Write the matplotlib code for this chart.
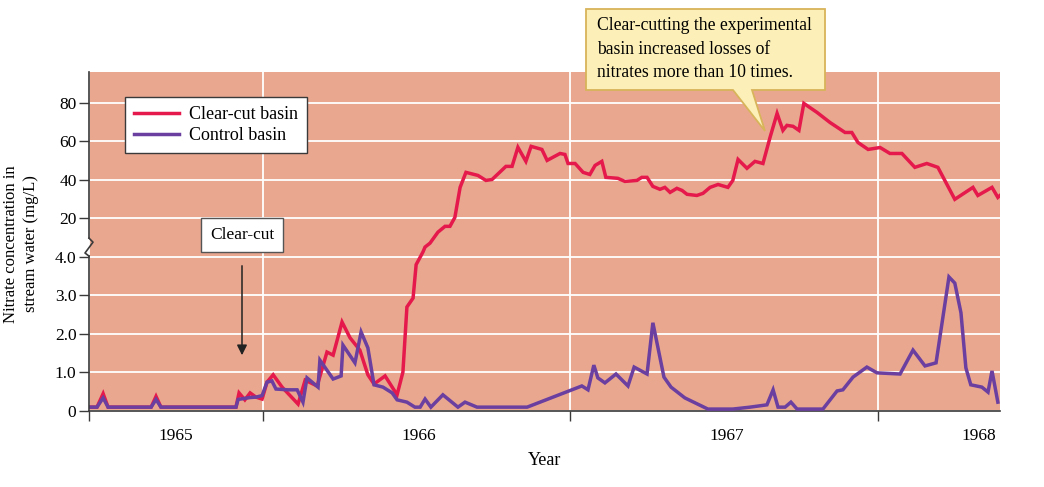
import numpy as np
import matplotlib
matplotlib.use("Agg")
import matplotlib.pyplot as plt
from matplotlib.patches import Polygon, FancyArrowPatch

plt.rcParams['font.family'] = ['Liberation Serif', 'DejaVu Serif']

# decimal years / nitrate (mg/L)
cut_x = [1965.434, 1965.460, 1965.480, 1965.496, 1965.636, 1965.652, 1965.668, 1965.912,
         1965.922, 1965.941, 1965.958, 1965.977, 1965.997, 1966.013, 1966.033, 1966.062,
         1966.114, 1966.137, 1966.176, 1966.208, 1966.228, 1966.257, 1966.283, 1966.315,
         1966.341, 1966.361, 1966.397, 1966.436, 1966.455, 1966.468, 1966.488, 1966.498,
         1966.520, 1966.527, 1966.543, 1966.569, 1966.592, 1966.608, 1966.624, 1966.641,
         1966.660, 1966.699, 1966.725, 1966.745, 1966.790, 1966.810, 1966.829, 1966.855,
         1966.872, 1966.907, 1966.924, 1966.966, 1966.982, 1966.992, 1967.015, 1967.041,
         1967.063, 1967.080, 1967.102, 1967.115, 1967.154, 1967.177, 1967.216, 1967.232,
         1967.249, 1967.268, 1967.291, 1967.307, 1967.324, 1967.346, 1967.363, 1967.379,
         1967.411, 1967.431, 1967.454, 1967.480, 1967.512, 1967.528, 1967.545, 1967.574,
         1967.600, 1967.626, 1967.649, 1967.672, 1967.691, 1967.704, 1967.724, 1967.743,
         1967.759, 1967.802, 1967.844, 1967.893, 1967.915, 1967.935, 1967.968, 1968.007,
         1968.039, 1968.078, 1968.120, 1968.159, 1968.195, 1968.250, 1968.309, 1968.325,
         1968.371, 1968.390, 1968.397]
cut_y = [0.1, 0.1, 0.45, 0.1, 0.1, 0.38, 0.1, 0.1,
         0.47, 0.29, 0.47, 0.36, 0.31, 0.75, 0.94, 0.62,
         0.18, 0.8, 0.65, 1.53, 1.45, 2.31, 1.9, 1.58,
         0.94, 0.7, 0.91, 0.42, 1.01, 2.7, 2.93, 3.8,
         6.0, 8.1, 9.7, 14.3, 16.7, 16.7, 20.5, 36.1,
         43.9, 42.3, 39.7, 40.2, 47.0, 47.0, 56.9, 49.6,
         57.4, 55.8, 50.1, 53.7, 53.2, 48.5, 48.5, 43.9,
         42.8, 47.5, 49.6, 41.3, 40.8, 39.2, 39.7, 41.3,
         41.3, 36.6, 35.1, 36.1, 33.5, 35.6, 34.5, 32.5,
         31.9, 33.0, 36.1, 37.6, 36.1, 39.7, 50.6, 46.0,
         49.6, 48.5, 62.0, 74.5, 65.7, 68.3, 67.8, 65.7,
         79.7, 75.0, 69.8, 64.6, 64.6, 59.4, 55.8, 56.8,
         53.7, 53.7, 46.5, 48.5, 46.5, 29.9, 36.1, 31.9,
         36.1, 30.9, 31.9]

ctrl_x = [1965.434, 1965.460, 1965.480, 1965.496, 1965.636, 1965.652, 1965.668, 1965.912,
          1965.919, 1965.958, 1965.977, 1965.997, 1966.013, 1966.029, 1966.042, 1966.081,
          1966.111, 1966.130, 1966.143, 1966.179, 1966.185, 1966.228, 1966.254, 1966.260,
          1966.299, 1966.319, 1966.341, 1966.361, 1966.390, 1966.420, 1966.436, 1966.468,
          1966.494, 1966.511, 1966.527, 1966.546, 1966.585, 1966.634, 1966.657, 1966.696,
          1966.859, 1967.037, 1967.057, 1967.076, 1967.089, 1967.112, 1967.148, 1967.187,
          1967.207, 1967.249, 1967.268, 1967.304, 1967.327, 1967.372, 1967.447, 1967.528,
          1967.584, 1967.639, 1967.659, 1967.675, 1967.698, 1967.717, 1967.737, 1967.821,
          1967.867, 1967.886, 1967.919, 1967.964, 1967.997, 1968.072, 1968.114, 1968.153,
          1968.189, 1968.231, 1968.250, 1968.270, 1968.286, 1968.302, 1968.338, 1968.358,
          1968.371, 1968.390]
ctrl_y = [0.1, 0.1, 0.34, 0.1, 0.1, 0.3, 0.1, 0.1,
          0.3, 0.35, 0.36, 0.4, 0.75, 0.78, 0.57, 0.55,
          0.55, 0.23, 0.86, 0.62, 1.32, 0.83, 0.91, 1.71,
          1.25, 2.05, 1.64, 0.68, 0.62, 0.47, 0.29, 0.23,
          0.1, 0.1, 0.31, 0.1, 0.42, 0.1, 0.23, 0.1,
          0.1, 0.65, 0.55, 1.19, 0.86, 0.73, 0.96, 0.65,
          1.14, 0.96, 2.29, 0.88, 0.62, 0.34, 0.05, 0.05,
          0.1, 0.16, 0.55, 0.1, 0.1, 0.23, 0.05, 0.05,
          0.52, 0.55, 0.88, 1.14, 0.99, 0.96, 1.58, 1.17,
          1.25, 3.48, 3.32, 2.55, 1.12, 0.68, 0.62, 0.49,
          1.04, 0.23]

y_ticks = [0, 1, 2, 3, 4, 20, 40, 60, 80]
y_labels = ['0', '1.0', '2.0', '3.0', '4.0', '20', '40', '60', '80']
year_pos = [1965.717, 1966.507, 1967.509, 1968.328]
year_labels = ['1965', '1966', '1967', '1968']

RED = '#E5194B'
PURPLE = '#6A3FA0'
BG = '#E9A790'
DARK = '#3a3a3a'


def fwd(y):
    y = np.asarray(y, dtype=float)
    return np.where(y <= 4, y, np.where(y <= 20, 4 + (y - 4) / 16.0, 4 + y / 20.0))


def inv(p):
    p = np.asarray(p, dtype=float)
    return np.where(p <= 4, p, np.where(p <= 5, 4 + (p - 4) * 16.0, (p - 4) * 20.0))


W, H = 1044, 487
fig = plt.figure(figsize=(W / 100, H / 100), dpi=100)
ax = fig.add_axes([89 / W, 1 - 411 / H, 911 / W, 339 / H])
ax.set_facecolor(BG)
ax.set_yscale('function', functions=(fwd, inv))
ax.set_xlim(1965.434, 1968.397)
ax.set_ylim(0, 96)

ax.plot(cut_x, cut_y, color=RED, lw=2.5, solid_joinstyle='miter', label='Clear-cut basin', zorder=3)
ax.plot(ctrl_x, ctrl_y, color=PURPLE, lw=2.5, solid_joinstyle='miter', label='Control basin', zorder=4)

ax.set_yticks(y_ticks)
ax.set_yticklabels(y_labels, fontsize=12.5)
ax.set_xticks([1965.434, 1966, 1967, 1968])
ax.set_xticklabels([])
ax.set_xticks(year_pos, minor=True)
ax.set_xticklabels(year_labels, minor=True, fontsize=12.5)
ax.tick_params(axis='x', which='minor', length=0, pad=12)
ax.tick_params(axis='x', which='major', length=7, width=1, color=DARK)
ax.tick_params(axis='y', length=7, width=1, color=DARK, pad=2)
ax.set_axisbelow(True)
ax.grid(True, which='major', color='white', lw=1.3)
ax.xaxis.grid(True, which='minor', lw=0)

for s in ['top', 'right', 'left']:
    ax.spines[s].set_visible(False)
ax.spines['bottom'].set_color(DARK)
ax.spines['bottom'].set_linewidth(1.2)

# left spine with the axis break zigzag
bx = 4 / 911
ax.plot([0, 0], [0, 0.457], transform=ax.transAxes, color=DARK, lw=1.2, clip_on=False, zorder=5)
ax.plot([0, 0], [0.510, 1], transform=ax.transAxes, color=DARK, lw=1.2, clip_on=False, zorder=5)
ax.plot([0, bx, -bx, 0], [0.510, 0.498, 0.466, 0.457], transform=ax.transAxes,
        color=DARK, lw=1.2, clip_on=False, zorder=5)

ax.set_xlabel('Year', fontsize=13, labelpad=6)
fig.text(21 / W, 1 - 244 / H, 'Nitrate concentration in\nstream water (mg/L)', rotation=90,
         ha='center', va='center', fontsize=12, linespacing=1.3)

leg = ax.legend(loc='upper left', bbox_to_anchor=((125 - 89) / 911, (411 - 97) / 339),
                fontsize=13, frameon=True, fancybox=False, edgecolor=DARK, framealpha=1,
                handlelength=2.5, borderpad=0.5, labelspacing=0.22, handletextpad=0.55,
                borderaxespad=0)
leg.get_frame().set_linewidth(1.0)

# Clear-cut label and arrow
fig.text(242 / W, 1 - 235 / H, 'Clear-cut', ha='center', va='center', fontsize=12.5,
         bbox=dict(boxstyle='square,pad=0.5', fc='white', ec='#555555', lw=1))
fig.patches.append(FancyArrowPatch(
    (242 / W, 1 - 263 / H), (242 / W, 1 - 358 / H), transform=fig.transFigure,
    arrowstyle='-|>,head_length=6,head_width=3', color='#222222', lw=1.1))

# callout box
pts = [(586, 9), (825, 9), (825, 90), (752, 90), (765, 131), (733, 90), (586, 90)]
fig.patches.append(Polygon([(px / W, 1 - py / H) for px, py in pts], closed=True,
                           transform=fig.transFigure, fc='#FCF0B8', ec='#D8B45A', lw=1.3, zorder=10))
fig.text(597 / W, 1 - 49 / H,
         'Clear-cutting the experimental\nbasin increased losses of\nnitrates more than 10 times.',
         ha='left', va='center', fontsize=12.7, linespacing=1.52, zorder=11)

fig.savefig('out.png', dpi=100, facecolor='white')
